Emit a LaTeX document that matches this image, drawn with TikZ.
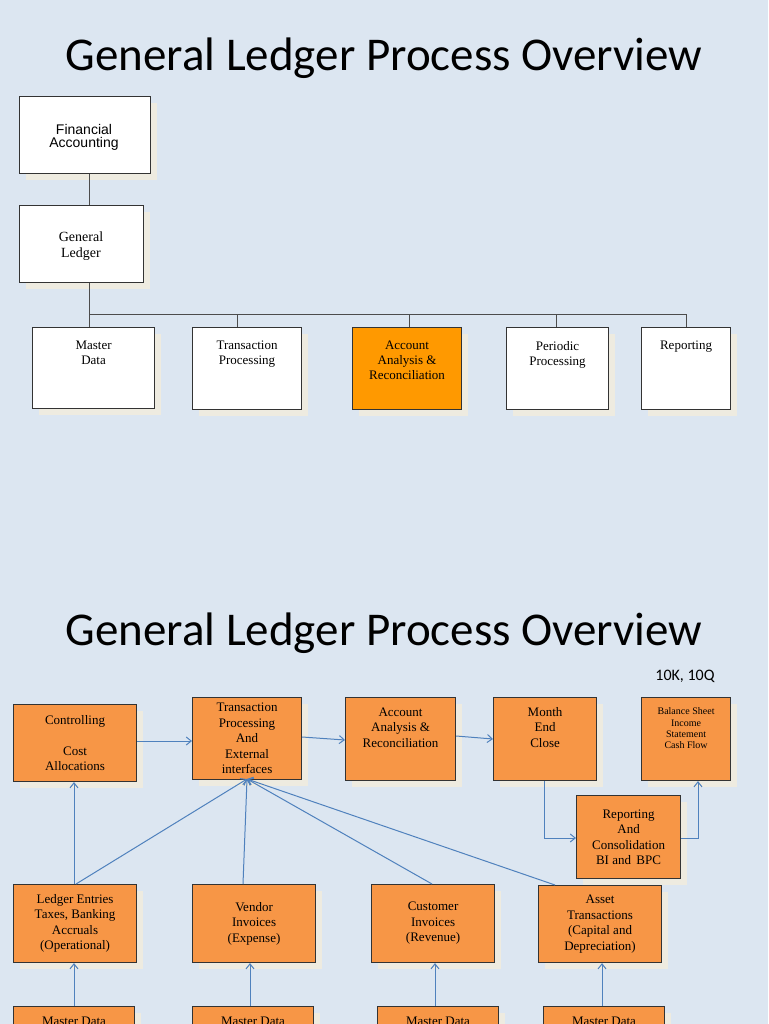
\documentclass[tikz,border=0pt]{standalone}
\usepackage{fontspec}
\setmainfont{Liberation Serif}
\newfontfamily\titlefont{Carlito}
\newfontfamily\arialfont{Liberation Sans}
\usetikzlibrary{shadows,arrows.meta}
\definecolor{bgblue}{HTML}{DCE6F1}
\definecolor{shade}{HTML}{EEEBE0}
\definecolor{boxorange}{HTML}{F79646}
\definecolor{hiorange}{HTML}{FF9900}
\definecolor{arrowblue}{HTML}{4F81BD}
\tikzset{
  box/.style={draw=black!80, line width=1.1pt, anchor=north west, inner sep=0pt,
    drop shadow={shadow xshift=6pt, shadow yshift=-6pt, fill=shade, opacity=1}},
  wbox/.style={box, fill=white},
  obox/.style={box, fill=boxorange, align=center, font=\fontsize{13}{15.5}\selectfont},
  txt/.style={anchor=north, align=center, inner sep=0pt, font=\fontsize{13}{15}\selectfont},
  tree/.style={draw=black!70, line width=1pt},
  flow/.style={draw=arrowblue, line width=1pt, -{Straight Barb[length=5pt,width=8pt]}},
  title/.style={font=\titlefont\fontsize{47}{50}\selectfont}
}
\begin{document}
\begin{tikzpicture}[x=1pt, y=-1pt]
\useasboundingbox[fill=bgblue] (0,0) rectangle (768,1024);

% ---------- first slide ----------
\node[title] (t1) at (384,58) {General Ledger Process Overview};

\node[wbox, minimum width=131pt, minimum height=77pt] (fa) at (19,96) {};
\node[txt, font=\arialfont\fontsize{14}{13}\selectfont] (fat) at (84,124) {Financial\\Accounting};
\node[wbox, minimum width=124pt, minimum height=77pt] (gl) at (19,205) {};
\node[txt, font=\fontsize{14}{16}\selectfont] (glt) at (81,232) {General\\Ledger};

\node[wbox, minimum width=122pt, minimum height=81pt] (md) at (32,327) {};
\node[wbox, minimum width=109pt, minimum height=82pt] (tp) at (192,327) {};
\node[box, fill=hiorange, minimum width=109pt, minimum height=82pt] (aa) at (352,327) {};
\node[wbox, minimum width=102pt, minimum height=82pt] (pp) at (506,327) {};
\node[wbox, minimum width=89pt, minimum height=82pt] (rp) at (641,327) {};
\node[txt] (mdt) at (md.north) [yshift=-14pt] {Master\\Data};
\node[txt] (tpt) at (tp.north) [yshift=-14pt] {Transaction\\Processing};
\node[txt] (aat) at (aa.north) [yshift=-14pt] {Account\\Analysis \&\\Reconciliation};
\node[txt] (ppt) at (pp.north) [yshift=-14pt] {Periodic\\Processing};
\node[txt] (rpt) at (rp.north) [yshift=-14pt] {Reporting};

\coordinate (bus) at (89,314);
\draw[tree] (fa.south -| bus) -- (gl.north -| bus);
\draw[tree] (gl.south -| bus) -- (md.north -| bus);
\draw[tree] (bus) -- (686,314);
\foreach \n/\x in {tp/237, aa/409, pp/556, rp/686}
  \draw[tree] (\x,314) -- (\n.north -| \x,0);

% ---------- second slide ----------
\node[title] (t2) at (384,633) {General Ledger Process Overview};
\node[font=\titlefont\fontsize{16}{18}\selectfont] (tenk) at (685,676) {10K, 10Q};

\node[obox, minimum width=123pt, minimum height=77pt] (ctl) at (13,704) {Controlling\\[15.5pt]Cost\\Allocations};
\node[obox, minimum width=109pt, minimum height=82pt] (tpx) at (192,697) {Transaction\\Processing\\And\\External\\interfaces};
\node[obox, minimum width=110pt, minimum height=83pt] (aar) at (345,697) {Account\\Analysis \&\\Reconciliation\\[8pt]};
\node[obox, minimum width=103pt, minimum height=83pt] (mec) at (493,697) {Month\\End\\Close\\[8pt]};
\node[obox, minimum width=89pt, minimum height=83pt, font=\fontsize{10}{11.3}\selectfont] (bsh) at (641,697) {Balance Sheet\\Income\\Statement\\Cash Flow\\[10pt]};
\node[obox, minimum width=104pt, minimum height=83pt] (rcn) at (576,795) {Reporting\\And\\Consolidation\\BI and\, BPC};

\node[obox, minimum width=123pt, minimum height=78pt] (led) at (13,884) {Ledger Entries\\Taxes, Banking\\Accruals\\(Operational)};
\node[obox, minimum width=123pt, minimum height=78pt] (ven) at (192,884) {Vendor\\Invoices\\(Expense)};
\node[obox, minimum width=123pt, minimum height=78pt] (cus) at (371,884) {Customer\\Invoices\\(Revenue)};
\node[obox, minimum width=123pt, minimum height=77pt] (ast) at (538,885) {Asset\\Transactions\\(Capital and\\Depreciation)};

\node[obox, minimum width=121pt, minimum height=60pt] (m1) at (13,1006) {};
\node[obox, minimum width=121pt, minimum height=60pt] (m2) at (192,1006) {};
\node[obox, minimum width=121pt, minimum height=60pt] (m3) at (377,1006) {};
\node[obox, minimum width=121pt, minimum height=60pt] (m4) at (543,1006) {};
\foreach \n in {m1,m2,m3,m4}
  \node[txt] (\n t) at (\n.north) [yshift=-11pt] {Master Data};

% flows
\draw[flow] (ctl.east |- 0,741) -- (tpx.west |- 0,741);
\draw[flow] (tpx.east |- 0,737) -- (aar.west |- 0,740);
\draw[flow] (aar.east |- 0,736) -- (mec.west |- 0,739);
\draw[flow] (mec.south -| 544,0) |- (rcn.west |- 0,838);
\draw[flow] (rcn.east |- 0,838) -| (bsh.south -| 698,0);
\coordinate (tpin) at (247,779);
\draw[flow] (led.north -| 74,0) -- (ctl.south -| 74,0);
\draw[flow] (led.north -| 76,0) -- (tpin);
\draw[flow] (ven.north -| 243,0) -- (tpin);
\draw[flow] (cus.north -| 432,0) -- (tpin);
\draw[flow] (ast.north -| 555,0) -- (tpin);
\draw[flow] (m1.north -| 74,0) -- (led.south -| 74,0);
\draw[flow] (m2.north -| 250,0) -- (ven.south -| 250,0);
\draw[flow] (m3.north -| 435,0) -- (cus.south -| 435,0);
\draw[flow] (m4.north -| 602,0) -- (ast.south -| 602,0);
\end{tikzpicture}
\end{document}
